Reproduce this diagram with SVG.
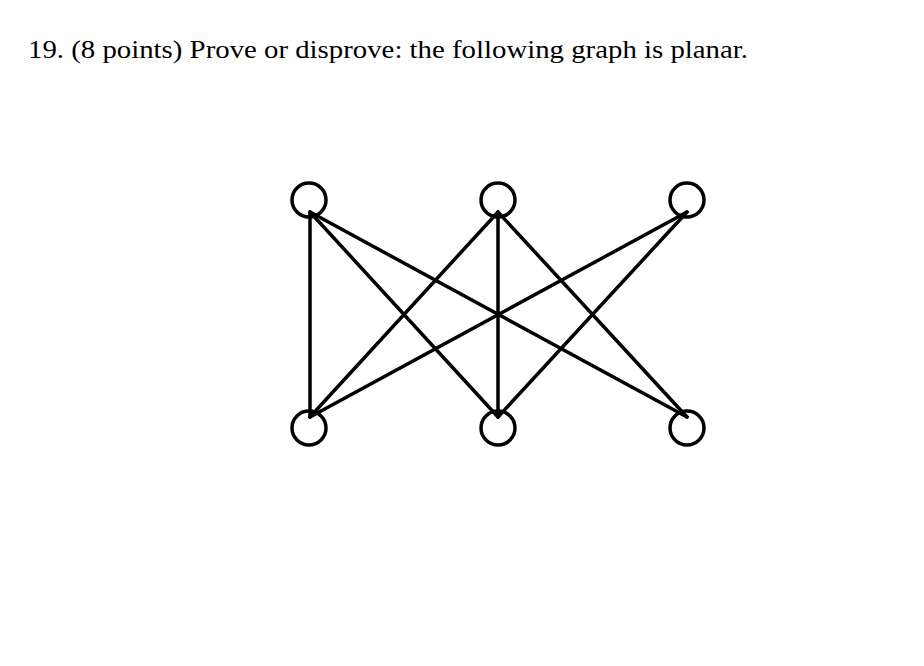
<svg xmlns="http://www.w3.org/2000/svg" width="924" height="666" viewBox="0 0 924 666">
<style>
.n{fill:none;stroke:#000;stroke-width:3.5}
.e{stroke:#000;stroke-width:3.5;stroke-linecap:round}
.t{font-family:"Liberation Serif",serif;font-size:26px;fill:#000}
</style>
<rect width="924" height="666" fill="#fff"/>
<text class="t" x="28" y="58" textLength="720" lengthAdjust="spacingAndGlyphs">19. (8 points) Prove or disprove: the following graph is planar.</text>
<g id="connectors">
<line class="e" x1="310" y1="212" x2="310" y2="417"/>
<line class="e" x1="310" y1="212" x2="498" y2="417"/>
<line class="e" x1="310" y1="212" x2="687" y2="417"/>
<line class="e" x1="498" y1="212" x2="310" y2="417"/>
<line class="e" x1="498" y1="212" x2="498" y2="417"/>
<line class="e" x1="498" y1="212" x2="687" y2="417"/>
<line class="e" x1="687" y1="212" x2="310" y2="417"/>
<line class="e" x1="687" y1="212" x2="498" y2="417"/>
</g>
<g id="n1"><circle class="n" cx="309" cy="200" r="17"/></g>
<g id="n2"><circle class="n" cx="498" cy="200" r="17"/></g>
<g id="n3"><circle class="n" cx="687" cy="200" r="17"/></g>
<g id="n4"><circle class="n" cx="309" cy="428" r="17"/></g>
<g id="n5"><circle class="n" cx="498" cy="428" r="17"/></g>
<g id="n6"><circle class="n" cx="687" cy="428" r="17"/></g>
</svg>
